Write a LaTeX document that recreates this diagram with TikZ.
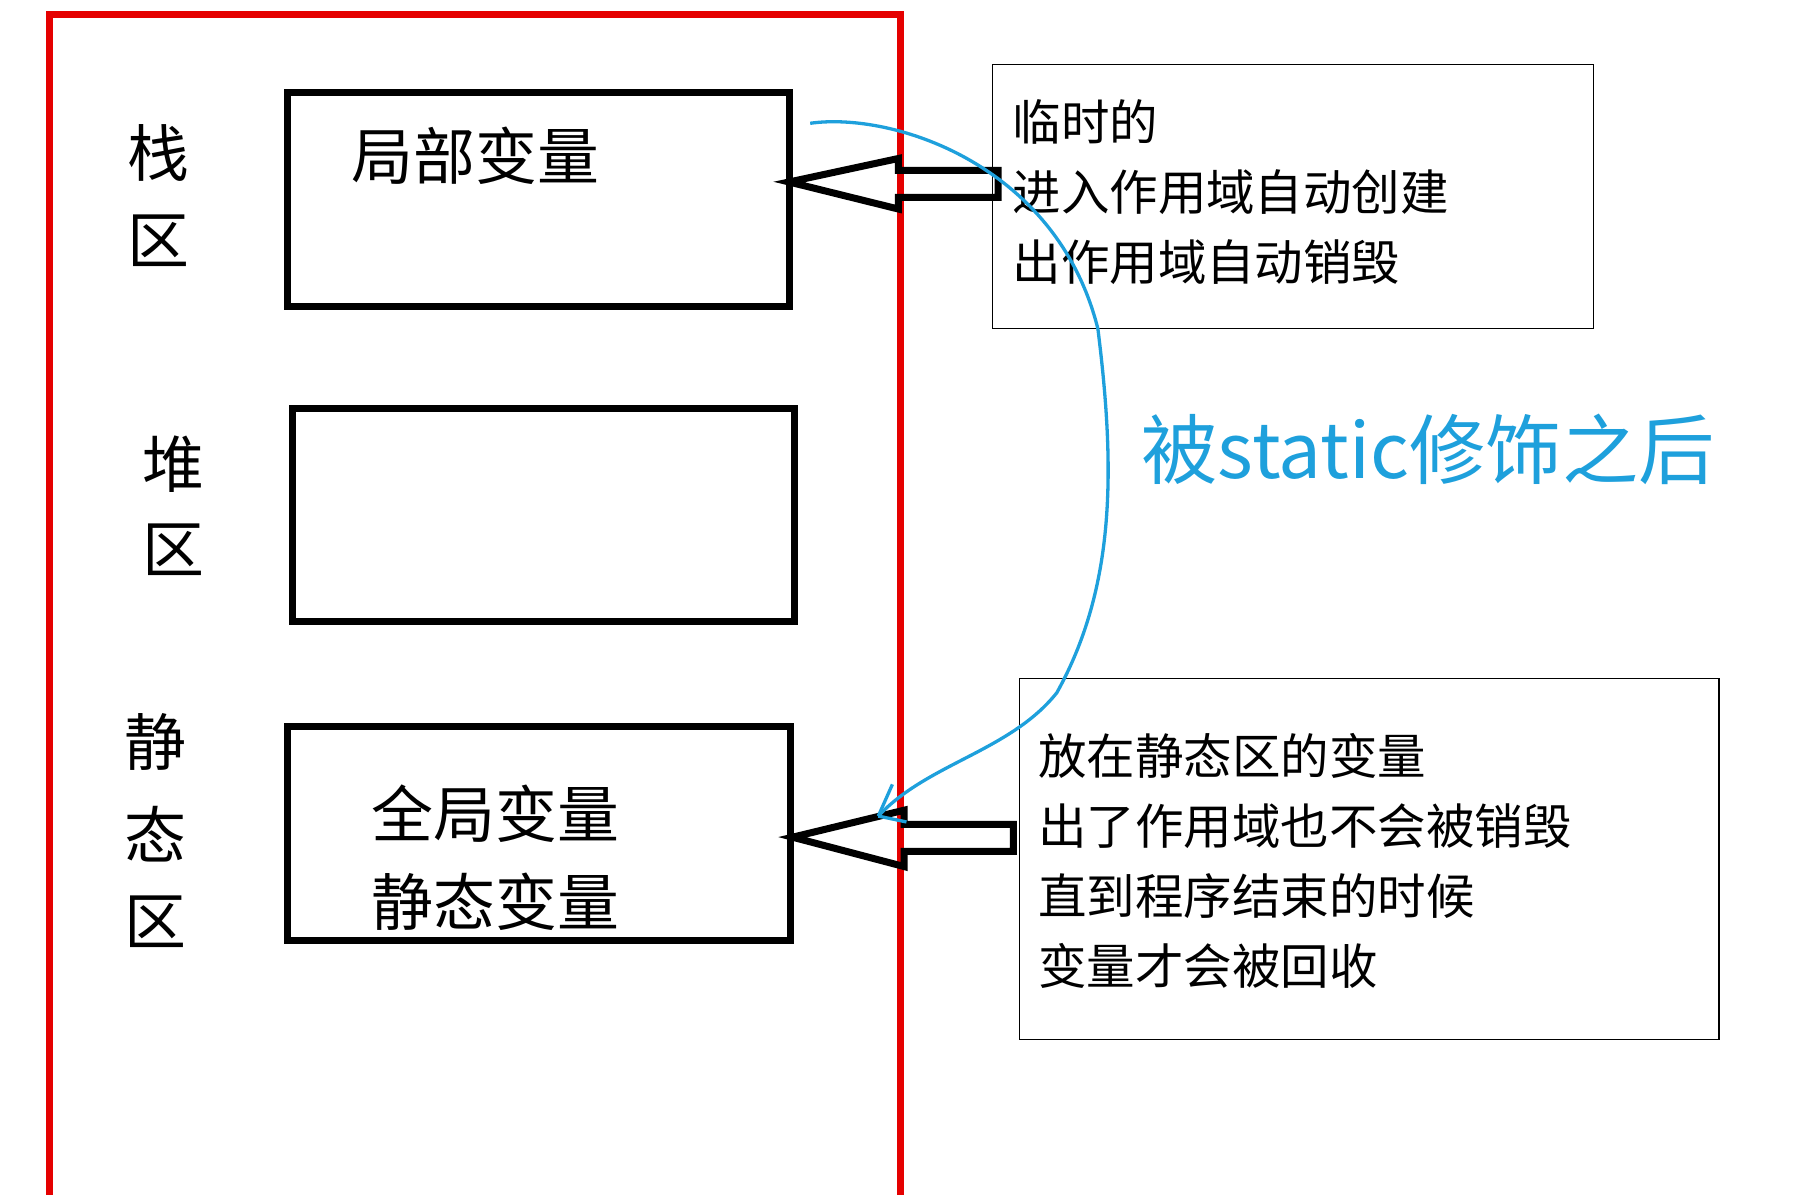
\documentclass[tikz,border=0pt]{standalone}
\usepackage{fontspec}
\setmainfont{Noto Sans CJK SC}
\begin{document}
\begin{tikzpicture}[x=0.02cm,y=-0.02cm,
  box/.style={draw=black,line width=3.4pt},
  big/.style={font=\fontsize{30}{34}\selectfont},
  note/.style={font=\fontsize{23.5}{34}\selectfont,align=left,anchor=north west,inner sep=0},
  harrow/.style={draw=black,line width=3.4pt,line join=miter}]
\definecolor{sblue}{RGB}{30,160,220}
\useasboundingbox (0,0) rectangle (1550,1017);
\draw[red!90!black,line width=3.4pt] (42,12) rectangle (767,1025);
\node[box,minimum width=427*0.02cm,minimum height=182*0.02cm,anchor=north west] (stack) at (242,76) {};
\node[box,minimum width=428*0.02cm,minimum height=181*0.02cm,anchor=north west] (heap) at (246,345) {};
\node[box,minimum width=428*0.02cm,minimum height=182*0.02cm,anchor=north west] (stat) at (242,616) {};
\node[big] (t1) at (405,133) {局部变量};
\node[big] (t2) at (422,693) {全局变量};
\node[big] (t3) at (422,768) {静态变量};
\node[big] (l1) at (135,130) {栈};
\node[big] (l2) at (135,205) {区};
\node[big] (l3) at (148,395) {堆};
\node[big] (l4) at (148,468) {区};
\node[big] (l5) at (132,632) {静};
\node[big] (l6) at (132,710) {态};
\node[big] (l7) at (132,785) {区};
\draw[harrow] (672,155) -- (765,135) -- (765,145) -- (850,145) -- (850,168) -- (765,168) -- (765,178) -- cycle;
\draw[harrow] (675,713) -- (770,690) -- (770,702) -- (863,702) -- (863,725) -- (770,725) -- (770,738) -- cycle;
\draw[line width=0.6pt] (845,55) rectangle (1357,280);
\draw[line width=0.6pt] (868,578) rectangle (1464,885);
\node[note] (n1) at (862,84) {临时的\\进入作用域自动创建\\出作用域自动销毁};
\node[note] (n2) at (884,624) {放在静态区的变量\\出了作用域也不会被销毁\\直到程序结束的时候\\变量才会被回收};
\draw[sblue,line width=1.6pt] (690,105) .. controls (760,95) and (900,140) .. (935,280)
  .. controls (950,400) and (950,500) .. (900,590)
  .. controls (860,640) and (790,650) .. (748,695);
\draw[sblue,line width=1.6pt] (748,695) -- (760,668) (748,695) -- (772,700);
\node[sblue,font=\fontsize{37}{42}\selectfont,anchor=west] (bt) at (966,383) {被static修饰之后};
\end{tikzpicture}
\end{document}
